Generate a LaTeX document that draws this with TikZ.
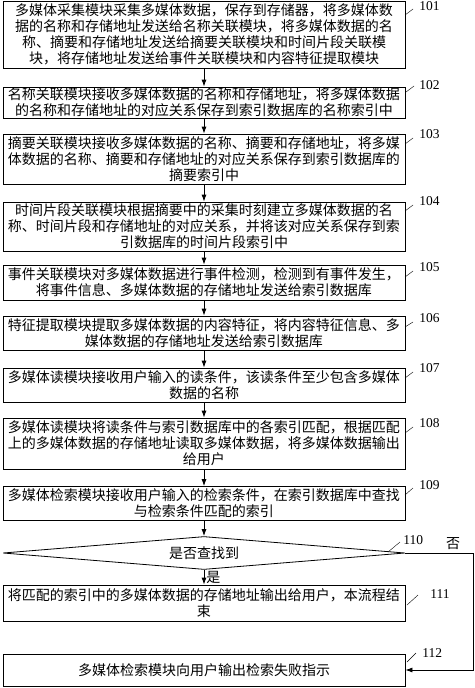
\documentclass[tikz,border=0pt]{standalone}
\usepackage{fontspec}
\setmainfont{Liberation Serif}
\newfontfamily\cjk{Noto Sans CJK SC}
\usetikzlibrary{arrows.meta,shapes.geometric}

\begin{document}
\begin{tikzpicture}[x=1pt,y=-1pt,thick,
  stepbox/.style={draw,rectangle,minimum width=402pt,inner sep=0pt,align=center,
    font=\cjk\fontsize{14}{16}\selectfont},
  num/.style={anchor=west,inner sep=0pt,font=\fontsize{13.5}{14}\selectfont},
  flow/.style={-{Latex[length=7pt,width=5pt]}}]
\useasboundingbox (0,0) rectangle (474,688);

\node[stepbox,minimum height=67pt] (s101) at (204,34.5) {多媒体采集模块采集多媒体数据，保存到存储器，将多媒体数\\据的名称和存储地址发送给名称关联模块，将多媒体数据的名\\称、摘要和存储地址发送给摘要关联模块和时间片段关联模\\块，将存储地址发送给事件关联模块和内容特征提取模块};
\node[stepbox,minimum height=31pt] (s102) at (204,102.5) {名称关联模块接收多媒体数据的名称和存储地址，将多媒体数据\\的名称和存储地址的对应关系保存到索引数据库的名称索引中};
\node[stepbox,minimum height=50pt] (s103) at (204,159) {摘要关联模块接收多媒体数据的名称、摘要和存储地址，将多媒\\体数据的名称、摘要和存储地址的对应关系保存到索引数据库的\\摘要索引中};
\node[stepbox,minimum height=49pt] (s104) at (204,226.5) {时间片段关联模块根据摘要中的采集时刻建立多媒体数据的名\\称、时间片段和存储地址的对应关系，并将该对应关系保存到索\\引数据库的时间片段索引中};
\node[stepbox,minimum height=35pt] (s105) at (204,282.5) {事件关联模块对多媒体数据进行事件检测，检测到有事件发生，\\将事件信息、多媒体数据的存储地址发送给索引数据库};
\node[stepbox,minimum height=34pt] (s106) at (204,333) {特征提取模块提取多媒体数据的内容特征，将内容特征信息、多\\媒体数据的存储地址发送给索引数据库};
\node[stepbox,minimum height=34pt] (s107) at (204,385) {多媒体读模块接收用户输入的读条件，该读条件至少包含多媒体\\数据的名称};
\node[stepbox,minimum height=51pt] (s108) at (204,443.5) {多媒体读模块将读条件与索引数据库中的各索引匹配，根据匹配\\上的多媒体数据的存储地址读取多媒体数据，将多媒体数据输出\\给用户};
\node[stepbox,minimum height=34pt] (s109) at (204,503.5) {多媒体检索模块接收用户输入的检索条件，在索引数据库中查找\\与检索条件匹配的索引};
\node[draw,diamond,aspect=12,minimum width=402pt,minimum height=33pt,inner sep=0pt,
  font=\cjk\fontsize{14}{16}\selectfont] (s110) at (204,553) {是否查找到};
\node[stepbox,minimum height=36pt] (s111) at (204,603) {将匹配的索引中的多媒体数据的存储地址输出给用户，本流程结\\束};
\node[stepbox,minimum height=32pt] (s112) at (204,670) {多媒体检索模块向用户输出检索失败指示};

\draw[flow] (s101) -- (s102);
\draw[flow] (s102) -- (s103);
\draw[flow] (s103) -- (s104);
\draw[flow] (s104) -- (s105);
\draw[flow] (s105) -- (s106);
\draw[flow] (s106) -- (s107);
\draw[flow] (s107) -- (s108);
\draw[flow] (s108) -- (s109);
\draw[flow] (s109) -- (s110);
\draw[flow] (s110) -- node[right,inner sep=2pt,font=\cjk\fontsize{14}{16}\selectfont] (yes) {是} (s111);

\coordinate (no1) at (473,553);
\coordinate (no2) at (473,670);
\draw[flow] (s110.east) -- (no1) -- (no2) -- (s112.east);
\node[font=\cjk\fontsize{14}{16}\selectfont] (no) at (453,544) {否};

\node[num] (n101) at (419,6) {101};
\node[num] (n102) at (419,85) {102};
\node[num] (n103) at (419,134) {103};
\node[num] (n104) at (419,201) {104};
\node[num] (n105) at (419,267) {105};
\node[num] (n106) at (419,318) {106};
\node[num] (n107) at (419,368) {107};
\node[num] (n108) at (419,423) {108};
\node[num] (n109) at (419,485) {109};
\node[num] (n110) at (403,540) {110};
\node[num] (n111) at (430,594) {111};
\node[num] (n112) at (422,653) {112};

\draw[thin] (405,15) -- (413,9);
\draw[thin] (406,92) -- (414,86);
\draw[thin] (405,144) -- (413,138);
\draw[thin] (405,211) -- (413,205);
\draw[thin] (405,277) -- (413,271);
\draw[thin] (405,327) -- (413,322);
\draw[thin] (405,378) -- (413,372);
\draw[thin] (405,433) -- (413,427);
\draw[thin] (405,495) -- (413,488);
\draw[thin] (388,552) -- (400,542);
\draw[thin] (407,605) -- (418,595);
\draw[thin] (407,662) -- (416,653);
\end{tikzpicture}
\end{document}
